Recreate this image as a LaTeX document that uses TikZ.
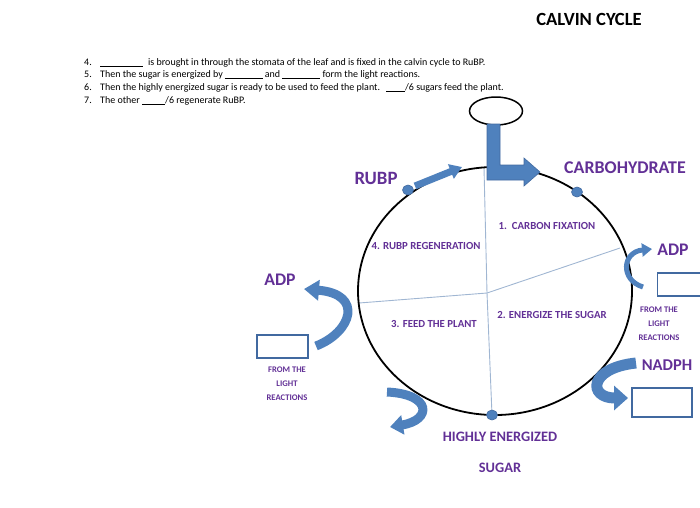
\documentclass[tikz,border=0pt]{standalone}
\usepackage{fontspec}
\setmainfont{Carlito}
\usetikzlibrary{arrows.meta,shapes.geometric}
\definecolor{labelpurple}{RGB}{98,48,150}
\definecolor{arrowblue}{RGB}{79,129,189}
\definecolor{edgeblue}{RGB}{65,105,160}
\definecolor{splitblue}{RGB}{160,182,210}
\newcommand{\blankline}[1]{\rule[-1pt]{#1pt}{0.5pt}}
\tikzset{
	biglabel/.style={text=labelpurple,inner sep=0pt,font=\bfseries\fontsize{17.7}{20}\selectfont},
	steplabel/.style={text=labelpurple,inner sep=0pt,font=\bfseries\fontsize{10.8}{12}\selectfont},
	smalllabel/.style={text=labelpurple,inner sep=0pt,align=center,font=\bfseries\fontsize{8.6}{14}\selectfont},
	question/.style={anchor=base west,inner sep=0pt,font=\fontsize{10}{12}\selectfont},
	blankbox/.style={draw=edgeblue,line width=1.5pt,fill=white,inner sep=0pt},
	blockarrow/.style={draw=arrowblue,line cap=butt},
	dot/.style={fill=arrowblue,draw=edgeblue,line width=0.6pt}
}
\begin{document}
\begin{tikzpicture}[x=1pt,y=-1pt]
		\useasboundingbox (0,0) rectangle (700,507);
		% title and questions
		\node[inner sep=0pt,font=\bfseries\fontsize{18.6}{22}\selectfont] (title) at (589,19) {CALVIN CYCLE};
		\node[question] (q4n) at (84,65) {4.};
		\node[question] (q4) at (100,65) {\blankline{43}\hspace{5pt}is brought in through the stomata of the leaf and is fixed in the calvin cycle to RuBP.};
		\node[question] (q5n) at (84,77.5) {5.};
		\node[question] (q5) at (100,77.5) {Then the sugar is energized by\,\blankline{38} and \blankline{38} form the light reactions.};
		\node[question] (q6n) at (84,90) {6.};
		\node[question] (q6) at (100,90) {Then the highly energized sugar is ready to be used to feed the plant.\hspace{6pt}\blankline{19}/6 sugars feed the plant.};
		\node[question] (q7n) at (84,103) {7.};
		\node[question] (q7) at (100,103) {The other \blankline{23}/6 regenerate RuBP.};
		% the cycle
		\coordinate (hub) at (487,293);
		\coordinate (top) at (484,168);
		\coordinate (bottom) at (492,415);
		\coordinate (left) at (359,303);
		\coordinate (right) at (620,248);
		\draw[splitblue,line width=0.9pt] (top) -- (hub) -- (bottom);
		\draw[splitblue,line width=0.9pt] (left) -- (hub) -- (right);
		\draw[line width=1.8pt] (495,291) ellipse [x radius=137, y radius=124];
		\draw[dot] (408,190) ellipse [x radius=5.5, y radius=5];
		\draw[dot] (577,192) ellipse [x radius=5.5, y radius=5];
		\draw[dot] (492,415) ellipse [x radius=5.5, y radius=5];
		% carbon in at the top
		\node[draw,line width=1.5pt,ellipse,minimum width=53pt,minimum height=28pt,inner sep=0pt] (co2) at (496,111) {};
		\fill[arrowblue,draw=edgeblue,line width=0.6pt] (487,124) -- (500,124) -- (500,165) -- (524,165) -- (524,158) -- (540,172) -- (524,186) -- (524,180) -- (487,180) -- cycle;
		\draw[blockarrow,line width=7pt,-{Triangle[length=12pt,width=15pt]}] (415,186) -- (462,167);
		% side arrows
		\draw[blockarrow,line width=9pt,-{Triangle[length=15pt,width=20pt]}] (316,346) .. controls (352,332) and (364,294) .. (304,289);
		\draw[blockarrow,line width=5pt,-{Triangle[length=10pt,width=13pt]}] (643,287) .. controls (620,280) and (622,252) .. (652,249);
		\draw[blockarrow,line width=11pt,-{Triangle[length=14pt,width=24pt]}] (636,363) .. controls (588,368) and (588,398) .. (628,398);
		\draw[blockarrow,line width=9pt,-{Triangle[length=13pt,width=19pt]}] (387,392) .. controls (432,394) and (432,420) .. (390,427);
		% labels
		\node[biglabel,font=\bfseries\fontsize{18.8}{20}\selectfont] (rubp) at (376,178) {RUBP};
		\node[biglabel,font=\bfseries\fontsize{17.9}{20}\selectfont] (carb) at (625,168) {CARBOHYDRATE};
		\node[steplabel] (fix) at (547,226) {1.\ \ CARBON FIXATION};
		\node[steplabel] (regen) at (426,246) {4. RUBP REGENERATION};
		\node[steplabel] (energ) at (552,315) {2. ENERGIZE THE SUGAR};
		\node[steplabel] (feed) at (434,324) {3. FEED THE PLANT};
		\node[biglabel] (adpr) at (673,250) {ADP};
		\node[biglabel] (adpl) at (280,280) {ADP};
		\node[biglabel,font=\bfseries\fontsize{16.5}{20}\selectfont] (nadph) at (667,365) {NADPH};
		\node[smalllabel] (lightr) at (659,323.5) {FROM THE\\LIGHT\\REACTIONS};
		\node[smalllabel] (lightl) at (287,383.5) {FROM THE\\LIGHT\\REACTIONS};
		\node[biglabel,font=\bfseries\fontsize{14.4}{16}\selectfont] (high) at (500,437) {HIGHLY ENERGIZED};
		\node[biglabel,font=\bfseries\fontsize{14.4}{16}\selectfont] (sugar) at (500,468) {SUGAR};
		% blanks to fill in
		\node[blankbox,minimum width=43pt,minimum height=23pt] (boxr) at (679,284.5) {};
		\node[blankbox,minimum width=60pt,minimum height=29pt] (boxn) at (662,402.5) {};
		\node[blankbox,minimum width=51pt,minimum height=23pt] (boxl) at (282.5,346.5) {};
	\end{tikzpicture}
\end{document}
